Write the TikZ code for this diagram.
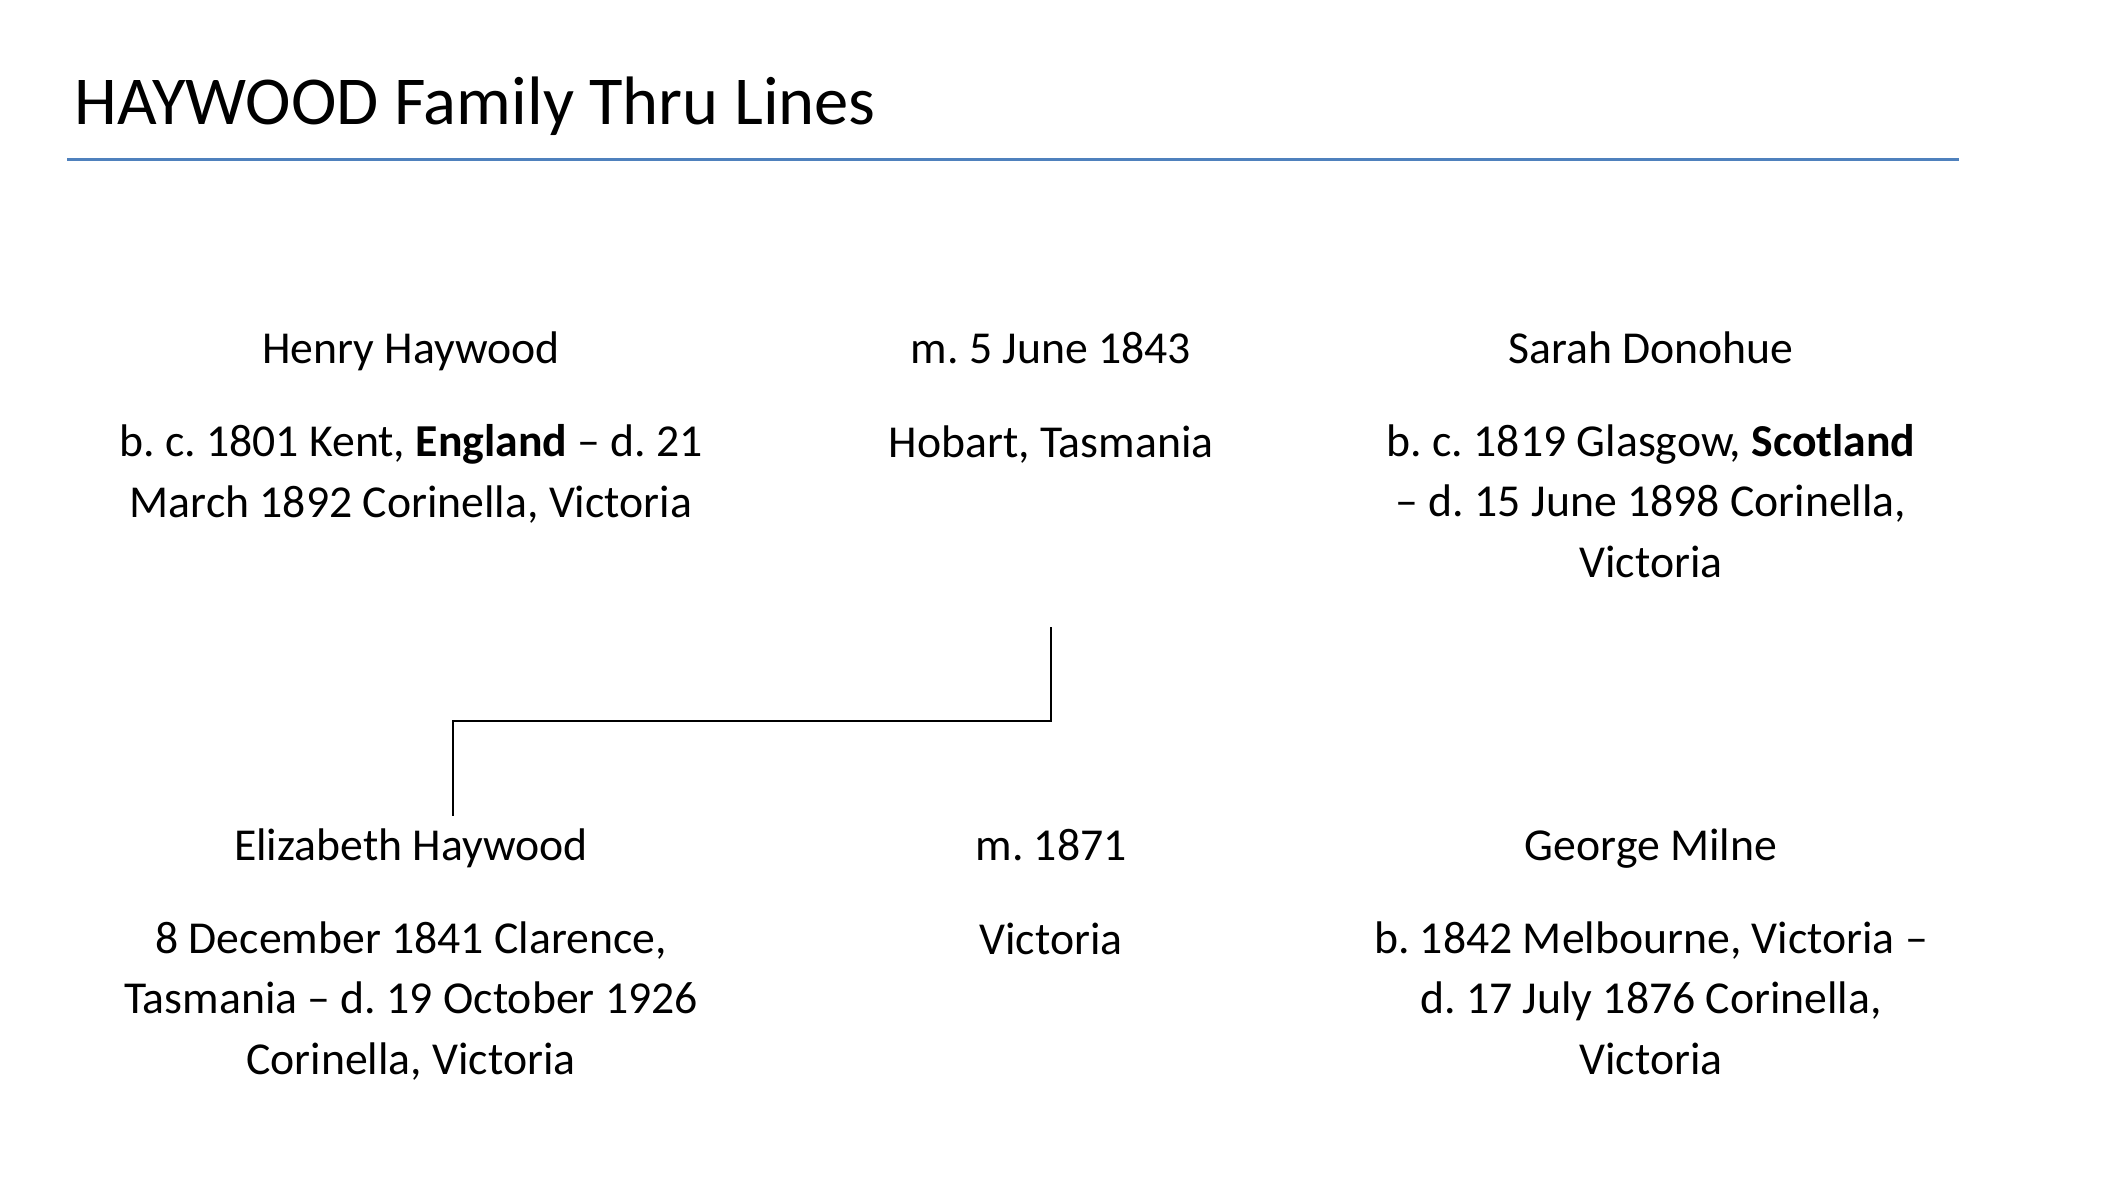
\documentclass[tikz,border=0pt]{standalone}
\usepackage{fontspec}
\setmainfont{Carlito}
\usepackage{tikz}
\usepackage{xcolor}
\definecolor{ruleblue}{RGB}{79,129,189}
\definecolor{treeblack}{RGB}{0,0,0}
\frenchspacing

\begin{document}
\begin{tikzpicture}[x=0.01cm, y=0.01cm,
    person/.style={font=\fontsize{13}{17.1}\selectfont, align=center, anchor=base},
    lineage/.style={treeblack, line width=0.6pt}]
    \useasboundingbox (0,0) rectangle (2101,-1182);

    % Heading with blue rule
    \node[font=\fontsize{19.5}{23}\selectfont, anchor=base west, inner sep=0pt] (title) at (74,-125) {HAYWOOD Family Thru Lines};
    \draw[ruleblue, line width=1.1pt] (67,-159.5) -- (1959,-159.5);

    % First generation: Henry and Sarah (base = last line)
    \node[person] (henry) at (411,-363) {Henry Haywood};
    \node[person] (henrydet) at (411,-517) {b. c. 1801 Kent, \textbf{England} -- d. 21\\March 1892 Corinella, Victoria};
    \node[person] (mar1) at (1051,-363) {m. 5 June 1843};
    \node[person] (mar1det) at (1051,-457) {Hobart, Tasmania};
    \node[person] (sarah) at (1651,-363) {Sarah Donohue};
    \node[person] (sarahdet) at (1651,-577) {b. c. 1819 Glasgow, \textbf{Scotland}\\-- d. 15 June 1898 Corinella,\\Victoria};

    % Second generation: Elizabeth and George
    \node[person] (eliz) at (411,-860) {Elizabeth Haywood};
    \node[person] (elizdet) at (411,-1074) {8 December 1841 Clarence,\\Tasmania -- d. 19 October 1926\\Corinella, Victoria};
    \node[person] (mar2) at (1051,-860) {m. 1871};
    \node[person] (mar2det) at (1051,-954) {Victoria};
    \node[person] (george) at (1651,-860) {George Milne};
    \node[person] (georgedet) at (1651,-1074) {b. 1842 Melbourne, Victoria --\\d. 17 July 1876 Corinella,\\Victoria};

    % Line of descent from the marriage to the daughter
    \coordinate (famtop) at (mar1det.south |- 0,-627);
    \draw[lineage] (famtop) -- ++(0,-94) -| ([xshift=0.42cm]eliz.north);
\end{tikzpicture}
\end{document}
